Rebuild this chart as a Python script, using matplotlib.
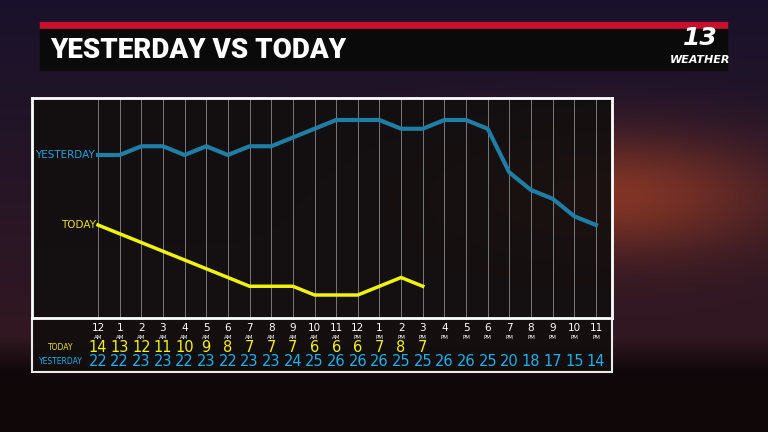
import numpy as np
import matplotlib
matplotlib.use("Agg")
import matplotlib.pyplot as plt
from matplotlib.patches import Rectangle
import matplotlib.transforms as mtrans

hours = ["12","1","2","3","4","5","6","7","8","9","10","11","12","1","2","3","4","5","6","7","8","9","10","11"]
ampm = ["AM"]*12 + ["PM"]*12
today = [14,13,12,11,10,9,8,7,7,7,6,6,6,7,8,7]
yesterday = [22,22,23,23,22,23,22,23,23,24,25,26,26,26,25,25,26,26,25,20,18,17,15,14]

W, H = 768, 432
fig = plt.figure(figsize=(7.68, 4.32), dpi=100)

# background gradient
bg = fig.add_axes([0, 0, 1, 1])
yy, xx = np.mgrid[0:1:200j, 0:1:300j]
glow = np.exp(-((xx-0.8)**2/0.05 + (yy-0.45)**2/0.02))
r = 0.10 + 0.35*glow + 0.12*yy
g = 0.07 + 0.12*glow + 0.03*yy
b = 0.12 + 0.05*(1-yy)
img = np.clip(np.dstack([r, g, b]), 0, 1)
fade = np.clip(1 - (yy - 0.78) / 0.12, 0.3, 1.0)[..., None]
img = img * fade
bg.imshow(img, extent=[0, 1, 0, 1], aspect="auto", origin="upper")
bg.set_xlim(0, 1); bg.set_ylim(0, 1); bg.axis("off")

def fx(px): return px / W
def fy(py): return 1 - py / H

# title bar
bg.add_patch(Rectangle((fx(40), fy(29)), fx(727-40), 7/H, color="#c8102e", transform=bg.transAxes))
bg.add_patch(Rectangle((fx(40), fy(70)), fx(727-40), 41/H, color="#0a0a0a", transform=bg.transAxes))
fig.text(fx(50), fy(50), "YESTERDAY VS TODAY", color="white", fontsize=20, fontweight="heavy",
         family="Roboto", va="center", ha="left")
fig.text(fx(700), fy(38), "13", color="white", fontsize=18, fontweight="bold", style="italic",
         ha="center", va="center")
fig.text(fx(700), fy(60), "WEATHER", color="white", fontsize=8, fontweight="bold", style="italic",
         ha="center", va="center")

# table background
bg.add_patch(Rectangle((fx(32), fy(372)), fx(580), 54/H, facecolor="#120e0e", edgecolor="white",
                       lw=1.5, alpha=0.92, transform=bg.transAxes))

# main axes
ax = fig.add_axes([fx(32), fy(318), fx(580), 220/H])
ax.set_facecolor((0.07, 0.06, 0.06, 0.92))
sp = 21.65
ax.set_xlim(-(98-32)/sp, (612-98)/sp)
ax.set_ylim(14 - 93/8.75, 14 + 127/8.75)
for s in ax.spines.values():
    s.set_color("white"); s.set_linewidth(2)
ax.set_xticks([]); ax.set_yticks([])
x = np.arange(len(hours))
for xi in x:
    ax.axvline(xi, color="#8a8a8a", lw=0.6, zorder=1)
ax.plot(x[:len(yesterday)], yesterday, color="#1f7ea6", lw=3, zorder=3)
ax.plot(x[:len(today)], today, color="#f2f20f", lw=2.5, zorder=3)
ax.text(-2.9, yesterday[0], "YESTERDAY", color="#1fa3d6", fontsize=7.5, va="center", ha="left")
ax.text(-1.7, today[0], "TODAY", color="#e8e020", fontsize=7.5, va="center", ha="left")

tr = mtrans.blended_transform_factory(ax.transData, ax.transAxes)
for i in x:
    ax.text(i, -0.045, hours[i], color="white", fontsize=7.5, ha="center", va="center", transform=tr)
    ax.text(i, -0.088, ampm[i], color="white", fontsize=4, ha="center", va="center", transform=tr)
for i, v in enumerate(today):
    ax.text(i, -0.135, str(v), color="#f2f20f", fontsize=10.5, ha="center", va="center", transform=tr)
for i, v in enumerate(yesterday):
    ax.text(i, -0.2, str(v), color="#1fb0e6", fontsize=10.5, ha="center", va="center", transform=tr)
ax.text(-1.7, -0.135, "TODAY", color="#e8e020", fontsize=5.5, ha="center", va="center", transform=tr)
ax.text(-1.7, -0.2, "YESTERDAY", color="#1fb0e6", fontsize=5.5, ha="center", va="center", transform=tr)

fig.savefig("out.png", dpi=100)
